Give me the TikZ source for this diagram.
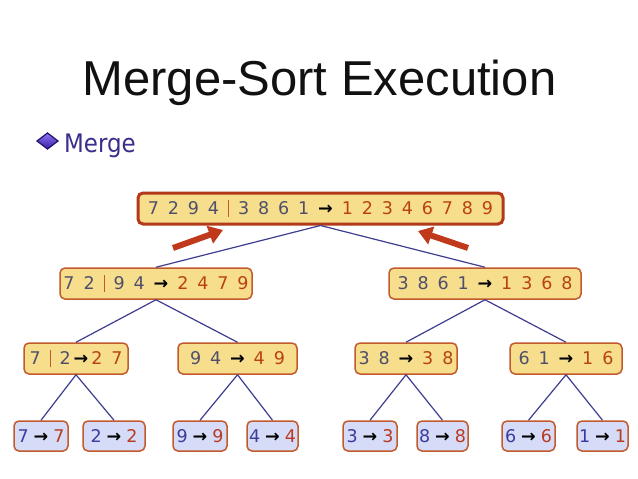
\documentclass[tikz,border=0pt]{standalone}
\usepackage{fontspec}
\setmainfont{DejaVu Sans}
\newfontfamily\titlefont{Liberation Sans}
\newfontfamily\bulletfont{DejaVu Sans Condensed}
\newfontfamily\digitfont[WordSpace=1.6]{DejaVu Sans}
\usetikzlibrary{arrows.meta}
\definecolor{boxfill}{HTML}{F6DE8D}
\definecolor{boxdraw}{HTML}{C25A2C}
\definecolor{topdraw}{HTML}{B23A1A}
\definecolor{leaffill}{HTML}{D6DCF7}
\definecolor{ink}{HTML}{4F4F6B}
\definecolor{res}{HTML}{B9420F}
\definecolor{leafin}{HTML}{3B3B9E}
\definecolor{leafout}{HTML}{B83A20}
\definecolor{edgecol}{HTML}{3E3E90}
\definecolor{bigred}{HTML}{C0391B}
\definecolor{mergeblue}{HTML}{3A2E8C}
\definecolor{titlegray}{HTML}{111111}
\definecolor{diamtop}{HTML}{8C78F0}
\definecolor{diambot}{HTML}{3A1BA8}
\definecolor{diamdraw}{HTML}{24106A}
\newcommand\msbar{\textcolor{boxdraw}{\rule[-2.5pt]{1.2pt}{17pt}}}
\newcommand\msto{\textcolor{black}{\bfseries →}}
\newcommand\msres[1]{\textcolor{res}{#1}}
\newcommand\msleaf[1]{\textcolor{leafin}{#1}\hspace{5pt}\msto\hspace{5pt}\textcolor{leafout}{#1}}
\tikzset{
  msbox/.style={draw=boxdraw, fill=boxfill, line width=1.5pt, rounded corners=5pt,
    inner sep=0pt, minimum height=31pt, text=ink,
    font=\digitfont\fontsize{17.5}{20}\selectfont},
  mstop/.style={msbox, draw=topdraw, line width=3pt},
  msleafbox/.style={msbox, fill=leaffill, minimum height=30pt},
  msedge/.style={draw=edgecol, line width=1.2pt},
  bigarrow/.style={draw=bigred, line width=6pt, -{Triangle[length=14pt,width=18pt]}}
}
\begin{document}
\begin{tikzpicture}[x=1pt, y=-1pt]
\fill[white] (0,0) rectangle (638,479);
\useasboundingbox (0,0) rectangle (638,479);
% title
\node (title) [anchor=base, inner sep=0pt, text=titlegray,
  font=\titlefont\fontsize{49}{58}\selectfont] at (319.5,95) {Merge-Sort Execution};
% bullet
\shade[top color=diamtop, bottom color=diambot, draw=diamdraw, line width=1.2pt]
  (37,141) -- (47.5,133) -- (58,141) -- (47.5,149) -- cycle;
\node (merge) [anchor=base west, inner sep=0pt, text=mergeblue,
  font=\bulletfont\fontsize{25.5}{30}\selectfont] at (64,152) {Merge};
% level 1
\node (top) [mstop, minimum width=365pt] at (320.5,208.5)
  {7 2 9 4 \msbar{} 3 8 6 1 \msto{} \msres{1 2 3 4 6 7 8 9}};
% level 2
\node (l2a) [msbox, minimum width=192pt] at (156,283.5)
  {7 2 \msbar{} 9 4 \msto{} \msres{2 4 7 9}};
\node (l2b) [msbox, minimum width=192pt] at (485,283.5)
  {3 8 6 1 \msto{} \msres{1 3 6 8}};
% level 3
\node (l3a) [msbox, minimum width=104pt] at (76,358.5)
  {7 \msbar{} 2\,\msto\,\msres{2 7}};
\node (l3b) [msbox, minimum width=119pt] at (237.5,358.5)
  {9 4 \msto{} \msres{4 9}};
\node (l3c) [msbox, minimum width=102pt] at (406,358.5)
  {3 8 \msto{} \msres{3 8}};
\node (l3d) [msbox, minimum width=112pt] at (566,358.5)
  {6 1 \msto{} \msres{1 6}};
% level 4
\node (l4a) [msleafbox, minimum width=54pt] at (41,436) {\msleaf{7}};
\node (l4b) [msleafbox, minimum width=62pt] at (114,436) {\msleaf{2}};
\node (l4c) [msleafbox, minimum width=54pt] at (200,436) {\msleaf{9}};
\node (l4d) [msleafbox, minimum width=51pt] at (272.5,436) {\msleaf{4}};
\node (l4e) [msleafbox, minimum width=54pt] at (370,436) {\msleaf{3}};
\node (l4f) [msleafbox, minimum width=51pt] at (442.5,436) {\msleaf{8}};
\node (l4g) [msleafbox, minimum width=53pt] at (528.5,436) {\msleaf{6}};
\node (l4h) [msleafbox, minimum width=51pt] at (602.5,436) {\msleaf{1}};
% connectors
\draw[msedge] (top.south) -- (l2a.north);
\draw[msedge] (top.south) -- (l2b.north);
\draw[msedge] (l2a.south) -- (l3a.north);
\draw[msedge] (l2a.south) -- (l3b.north);
\draw[msedge] (l2b.south) -- (l3c.north);
\draw[msedge] (l2b.south) -- (l3d.north);
\draw[msedge] (l3a.south) -- (l4a.north);
\draw[msedge] (l3a.south) -- (l4b.north);
\draw[msedge] (l3b.south) -- (l4c.north);
\draw[msedge] (l3b.south) -- (l4d.north);
\draw[msedge] (l3c.south) -- (l4e.north);
\draw[msedge] (l3c.south) -- (l4f.north);
\draw[msedge] (l3d.south) -- (l4g.north);
\draw[msedge] (l3d.south) -- (l4h.north);
% big arrows
\coordinate (la0) at (173,248);
\coordinate (la1) at (223,230);
\coordinate (ra0) at (468,248);
\coordinate (ra1) at (418,231);
\draw[bigarrow] (la0) -- (la1);
\draw[bigarrow] (ra0) -- (ra1);
\end{tikzpicture}
\end{document}
